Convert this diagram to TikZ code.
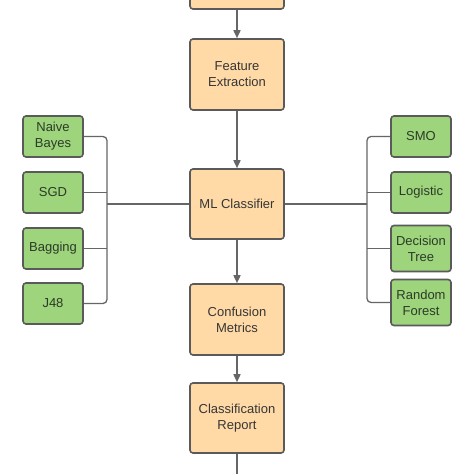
\documentclass[tikz,border=0pt]{standalone}
\usepackage{fontspec}
\setmainfont{Liberation Sans}
\usetikzlibrary{arrows.meta}
\definecolor{peach}{HTML}{FFD9A6}
\definecolor{leaf}{HTML}{9DD47C}
\definecolor{edge}{HTML}{5A5A5A}
\definecolor{wire}{HTML}{666666}
\definecolor{txt}{HTML}{363636}
\definecolor{gtxt}{HTML}{2C3B27}
\tikzset{
  procbox/.style={draw=edge, line width=1.6pt, fill=peach, rounded corners=3pt,
    minimum width=94pt, minimum height=71pt, inner sep=0pt, align=center,
    font=\fontsize{13}{16}\selectfont, text=txt},
  algobox/.style={draw=edge, line width=1.6pt, fill=leaf, rounded corners=3pt,
    minimum width=60pt, minimum height=41pt, inner sep=0pt, align=center,
    font=\fontsize{13}{16}\selectfont, text=gtxt},
  flow/.style={draw=wire, line width=1.6pt, -{Triangle[length=8pt,width=7pt]}},
  bus/.style={draw=wire, line width=1.3pt, rounded corners=4pt},
  thinbus/.style={draw=wire, line width=0.8pt}
}
\begin{document}
\begin{tikzpicture}[x=1pt,y=-1pt]
\useasboundingbox (0,0) rectangle (474,474);
\clip (0,0) rectangle (474,474);
\fill[white] (0,0) rectangle (474,474);
% main column
\node[procbox] (top) at (237,-26.5) {};
\node[procbox] (fe) at (237,74.5) {Feature\\Extraction};
\node[procbox, minimum height=70pt] (ml) at (237,204) {ML Classifier};
\node[procbox] (cm) at (237,319.5) {Confusion\\Metrics};
\node[procbox, minimum height=70pt] (cr) at (237,418) {Classification\\Report};
\coordinate (end) at (237,480);
\draw[flow] (top) -- (fe);
\draw[flow] (fe) -- (ml);
\draw[flow] (ml) -- (cm);
\draw[flow] (cm) -- (cr);
\draw[draw=wire, line width=1.6pt] (cr) -- (end);
% left algorithms
\node[algobox] (nb) at (53,136.5) {Naive\\Bayes};
\node[algobox] (sgd) at (53,192.5) {SGD};
\node[algobox] (bag) at (53,248.5) {Bagging};
\node[algobox] (j48) at (53,303.5) {J48};
\coordinate (lb) at (107,204);
\draw[bus] (nb.east) -| (lb) |- (j48.east);
\draw[bus] (sgd.east) -- (sgd.east -| lb);
\draw[thinbus] (bag.east) -- (bag.east -| lb);
\draw[bus] (lb) -- (ml.west);
% right algorithms
\node[algobox] (smo) at (421,136.5) {SMO};
\node[algobox] (log) at (421,192.5) {Logistic};
\node[algobox, minimum height=46pt] (dt) at (421,248.5) {Decision\\Tree};
\node[algobox, minimum height=46pt] (rf) at (421,302.5) {Random\\Forest};
\coordinate (rb) at (367,204);
\draw[bus] (smo.west) -| (rb) |- (rf.west);
\draw[bus] (log.west) -- (log.west -| rb);
\draw[thinbus] (dt.west) -- (dt.west -| rb);
\draw[bus] (rb) -- (ml.east);
\end{tikzpicture}
\end{document}
